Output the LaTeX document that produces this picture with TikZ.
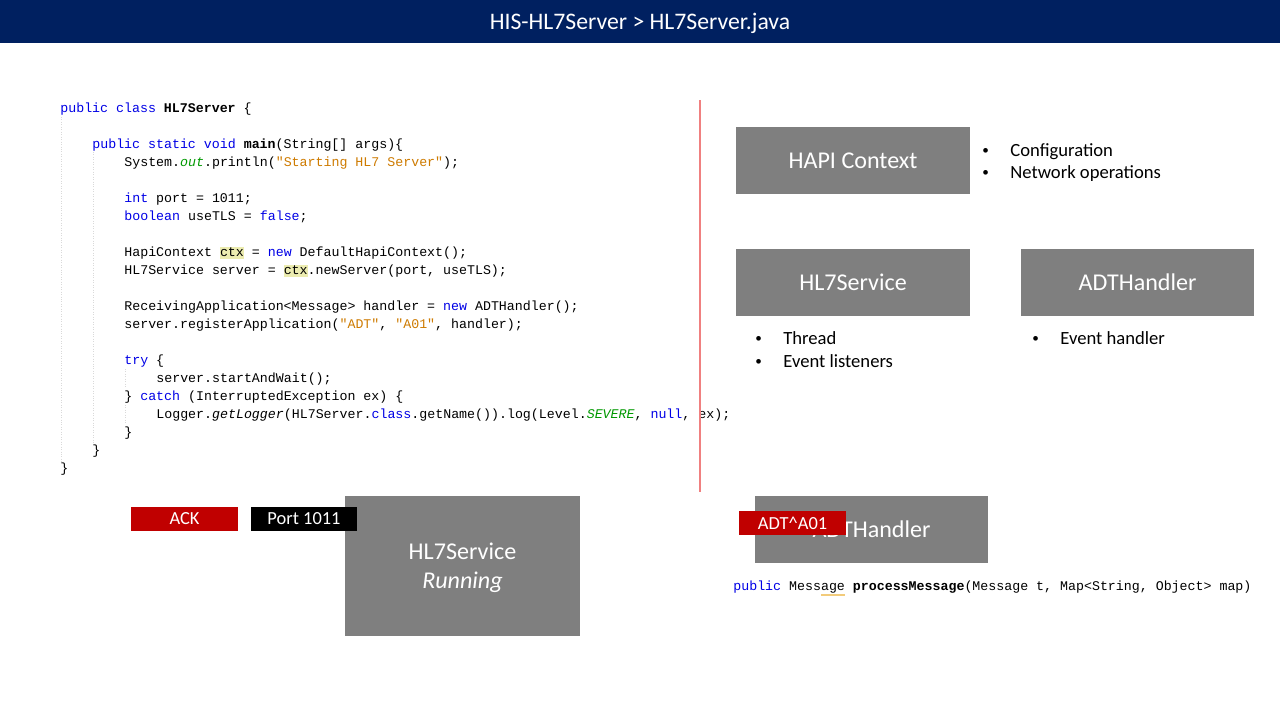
\documentclass[tikz,border=0pt]{standalone}
\usepackage{fontspec}
\setmainfont{Carlito}
\newfontfamily\codefont{Liberation Mono}
\usetikzlibrary{positioning}
\definecolor{barblue}{HTML}{002060}
\definecolor{boxgray}{HTML}{7F7F7F}
\definecolor{tagred}{HTML}{C00000}
\definecolor{kwblue}{HTML}{0000E6}
\definecolor{strorange}{HTML}{CE7B00}
\definecolor{fldgreen}{HTML}{009900}
\definecolor{hlyellow}{HTML}{ECECB0}
\definecolor{splitred}{HTML}{F08080}
\newcommand\jkw[1]{\textcolor{kwblue}{#1}}
\newcommand\jstr[1]{\textcolor{strorange}{#1}}
\newcommand\jfld[1]{\textcolor{fldgreen}{\itshape #1}}
\newcommand\jhl[1]{{\setlength\fboxsep{0pt}\colorbox{hlyellow}{\rule[-1.5pt]{0pt}{6.6pt}#1}}}
\newcommand\bitem[1]{\makebox[0.64cm][l]{\hspace{0.08cm}\raisebox{0.9pt}{\fontsize{7.5}{8}\selectfont\textbullet}}#1}
\begin{document}
\begin{tikzpicture}[x=0.02cm, y=-0.02cm,
  box/.style={fill=boxgray, text=white, inner sep=0pt, font=\fontsize{13.7}{16.5}\selectfont},
  tag/.style={text=white, inner sep=0pt, minimum width=2.14cm, minimum height=0.48cm, font=\fontsize{10.5}{12}\selectfont},
  code/.style={anchor=base west, inner sep=0pt, font=\codefont\fontsize{7.56}{9}\selectfont},
  note/.style={anchor=base west, inner sep=0pt, font=\fontsize{10.6}{12.7}\selectfont},
  guide/.style={gray!30, densely dotted, line width=0.4pt}]
  \path[fill=white, use as bounding box] (0,0) rectangle (1280,720);
  \fill[barblue] (0,0) rectangle (1280,43);
  \node[anchor=base, text=white, font=\fontsize{13.5}{16}\selectfont] (title) at (640,30) {HIS-HL7Server > HL7Server.java};

  \draw[guide] (61,117) -- (61,462);
  \draw[guide] (93,152) -- (93,444);
  \draw[guide] (125,369) -- (125,388);
  \draw[guide] (125,405) -- (125,424);

  \node[code] (cls) at (60,112) {\jkw{public class} \textbf{HL7Server} \{};
  \node[code] (mainsig) at (92,148) {\jkw{public static void} \textbf{main}(String[] args)\{};
  \node[code] (println) at (124,166) {System.\jfld{out}.println(\jstr{"Starting HL7 Server"});};
  \node[code] (portdecl) at (124,202) {\jkw{int} port = 1011;};
  \node[code] (tlsdecl) at (124,220) {\jkw{boolean} useTLS = \jkw{false};};
  \node[code] (ctxdecl) at (124,256) {HapiContext \jhl{ctx} = \jkw{new} DefaultHapiContext();};
  \node[code] (srvdecl) at (124,274) {HL7Service server = \jhl{ctx}.newServer(port, useTLS);};
  \node[code] (hdecl) at (124,310) {ReceivingApplication<Message> handler = \jkw{new} ADTHandler();};
  \node[code] (reg) at (124,328) {server.registerApplication(\jstr{"ADT"}, \jstr{"A01"}, handler);};
  \node[code] (try) at (124,364) {\jkw{try} \{};
  \node[code] (start) at (156,382) {server.startAndWait();};
  \node[code] (catch) at (124,400) {\} \jkw{catch} (InterruptedException ex) \{};
  \node[code] (log) at (156,418) {Logger.\textit{getLogger}(HL7Server.\jkw{class}.getName()).log(Level.\jfld{SEVERE}, \jkw{null}, ex);};
  \node[code] (tryend) at (124,436) {\}};
  \node[code] (mainend) at (92,454) {\}};
  \node[code] (clsend) at (60,472) {\}};

  \draw[splitred, line width=0.6pt] (700,100) -- (700,492);

  \node[box, minimum width=4.68cm, minimum height=1.34cm] (hapi) at (853,160.5) {HAPI Context};
  \node[box, minimum width=4.68cm, minimum height=1.34cm] (service) at (853,282.5) {HL7Service};
  \node[box, minimum width=4.66cm, minimum height=1.34cm] (handler) at (1137.5,282.5) {ADTHandler};

  \node[note] (conf) at (978,156) {\bitem{Configuration}};
  \node[note] (netops) at (978,178) {\bitem{Network operations}};
  \node[note] (thread) at (751,344) {\bitem{Thread}};
  \node[note] (listen) at (751,367) {\bitem{Event listeners}};
  \node[note] (evhandler) at (1028,344) {\bitem{Event handler}};

  \node[box, minimum width=4.7cm, minimum height=2.8cm, text depth=0pt, align=center] (running) at (462.5,566) {HL7Service\\\textit{Running}};
  \node[tag, fill=tagred] (ack) at (184.5,519) {ACK};
  \node[tag, fill=black, minimum width=2.12cm] (port) at (304,519) {Port 1011};

  \node[box, minimum width=4.66cm, minimum height=1.34cm] (adt) at (871.5,529.5) {ADTHandler};
  \node[tag, fill=tagred] (msg) at (792.5,523) {ADT\textasciicircum A01};
  \node[code] (process) at (733,590) {\jkw{public} Message \textbf{processMessage}(Message t, Map<String, Object> map)};
  \draw[hlyellow!70!orange, line width=0.8pt] (821,595) -- (845,595);
\end{tikzpicture}
\end{document}
